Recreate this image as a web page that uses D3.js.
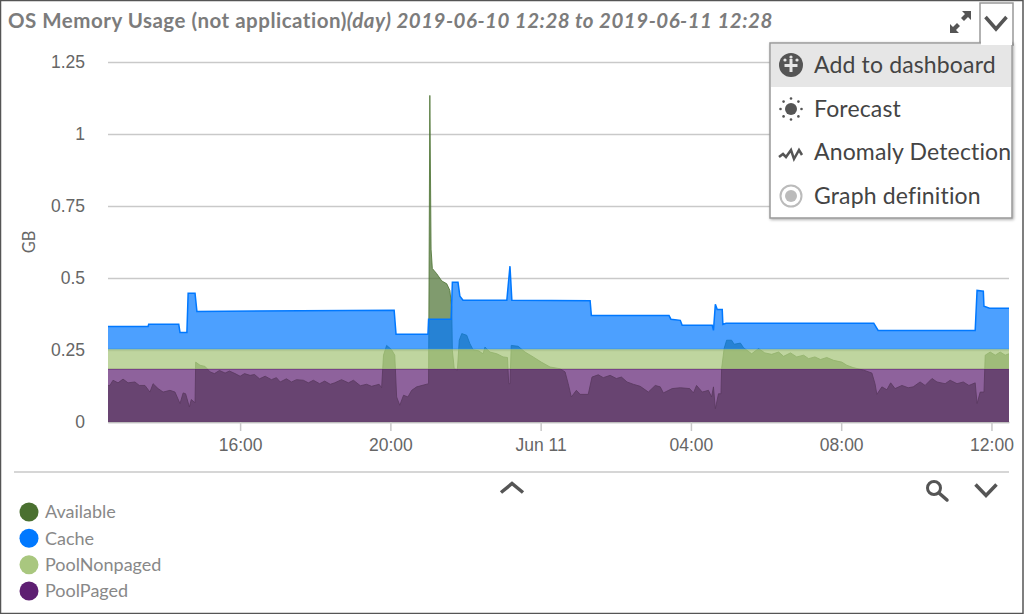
<!DOCTYPE html>
<html>
<head>
	<meta charset="utf-8">
	<title>OS Memory Usage</title>
	<script src="https://d3js.org/d3.v7.min.js"></script>
	<style>
		html, body { margin: 0; padding: 0; background: #fff; }
		svg { display: block; font-family: Lato, "Open Sans", sans-serif; }
	</style>
</head>
<body>
	<div id="chart"></div>

	<script type="text/javascript">

// hours counted from 2019-06-10 00:00
var cacheHours = [12.49,13.55,13.58,14.38,14.40,14.59,14.62,14.80,14.85,20.10,
	20.15,21.01,21.03,21.62,21.65,21.81,21.86,21.94,23.11,23.19,
	23.24,25.32,25.35,27.42,27.48,27.72,27.77,28.57,28.60,28.65,
	28.70,28.84,28.86,28.94,32.88,32.99,35.57,35.63,35.79,35.81,
	35.95,36.48];
var cacheValues = [.079,.079,.086,.086,.058,.058,.194,.194,.131,.135,
	.052,.052,.104,.104,.232,.232,.184,.170,.170,.288,
	.170,.168,.117,.117,.104,.100,.083,.083,.065,.156,
	.138,.138,.086,.090,.090,.065,.065,.204,.201,.149,
	.142,.142];
var nonpagedValues = [.069,.069,.069,.069,.069,.069,.069,.069,.069,.069,
	.069,.069,.069,.069,.069,.069,.069,.069,.069,.069,
	.069,.069,.069,.069,.069,.069,.069,.069,.069,.069,
	.069,.069,.069,.069,.069,.069,.069,.069,.069,.069,
	.069,.069];
var pagedValues = [.184,.184,.184,.184,.184,.184,.184,.184,.184,.184,
	.184,.184,.184,.184,.184,.184,.184,.184,.184,.184,
	.184,.184,.184,.184,.184,.184,.184,.184,.184,.184,
	.184,.184,.184,.184,.184,.184,.184,.184,.184,.184,
	.184,.184];

var availableHours = [12.49,12.54,12.63,12.76,12.89,13.03,13.20,13.32,13.47,13.60,
	13.69,13.83,13.96,14.14,14.27,14.40,14.49,14.56,14.65,14.70,
	14.80,14.83,14.94,15.07,15.20,15.33,15.45,15.60,15.73,15.87,
	16.00,16.13,16.27,16.40,16.53,16.67,16.84,16.98,17.07,17.24,
	17.38,17.51,17.69,17.82,17.95,18.13,18.26,18.40,18.53,18.71,
	18.89,19.02,19.20,19.37,19.51,19.71,19.77,19.82,19.91,20.04,
	20.13,20.17,20.26,20.35,20.48,20.57,20.70,21.02,21.06,21.09,
	21.13,21.24,21.37,21.50,21.59,21.64,21.66,21.70,21.79,21.84,
	21.90,22.04,22.13,22.20,22.35,22.48,22.53,22.66,22.84,23.01,
	23.12,23.15,23.19,23.23,23.41,23.59,23.81,24.03,24.26,24.52,
	24.66,24.74,24.83,24.95,25.05,25.28,25.37,25.54,25.68,25.85,
	26.03,26.16,26.30,26.48,26.65,26.87,27.05,27.19,27.27,27.50,
	27.72,27.98,28.07,28.16,28.30,28.47,28.56,28.61,28.65,28.74,
	28.80,28.83,28.89,28.96,29.09,29.16,29.32,29.40,29.63,29.80,
	29.98,30.16,30.34,30.47,30.65,30.82,31.00,31.14,31.31,31.45,
	31.62,31.80,32.02,32.16,32.33,32.60,32.82,32.91,32.95,33.09,
	33.22,33.33,33.44,33.62,33.80,33.93,34.11,34.24,34.42,34.55,
	34.77,34.91,35.09,35.26,35.40,35.57,35.62,35.71,35.80,35.84,
	35.97,36.11,36.24,36.37,36.48];
var availableValues = [.127,.127,.145,.136,.149,.136,.139,.127,.127,.104,
	.133,.116,.104,.110,.104,.064,.101,.098,.052,.078,
	.067,.208,.197,.193,.174,.168,.179,.170,.177,.168,
	.159,.168,.162,.165,.150,.159,.147,.154,.139,.150,
	.139,.147,.145,.136,.145,.133,.142,.131,.136,.147,
	.136,.145,.126,.131,.124,.131,.119,.232,.266,.251,
	.232,.087,.058,.093,.087,.110,.122,.133,1.134,.600,
	.533,.515,.490,.480,.457,.399,.249,.185,.180,.284,
	.307,.301,.272,.251,.247,.237,.260,.243,.237,.226,
	.224,.133,.133,.266,.263,.243,.226,.208,.191,.185,
	.174,.133,.087,.110,.096,.096,.156,.164,.154,.162,
	.151,.156,.139,.131,.124,.104,.127,.122,.101,.116,
	.119,.116,.101,.127,.104,.110,.087,.122,.046,.098,
	.098,.185,.255,.284,.284,.270,.274,.258,.237,.255,
	.240,.235,.243,.228,.240,.226,.232,.220,.226,.217,
	.224,.214,.208,.197,.189,.180,.170,.133,.096,.122,
	.112,.136,.116,.127,.119,.122,.139,.127,.151,.139,
	.133,.145,.133,.139,.127,.136,.064,.104,.104,.232,
	.243,.232,.243,.232,.237];

var legendNames = ["Available", "Cache", "PoolNonpaged", "PoolPaged"];
var legendColors = ["#4a7030", "#0078ff", "#a9c77f", "#5e1f72"];
var yTicks = [0, .25, .5, .75, 1, 1.25];
var yTickLabels = ["0", "0.25", "0.5", "0.75", "1", "1.25"];
var xTickHours = [16, 20, 24, 28, 32, 36];
var xTickLabels = ["16:00", "20:00", "Jun 11", "04:00", "08:00", "12:00"];
var menuItems = ["Add to dashboard", "Forecast", "Anomaly Detection", "Graph definition"];

function toDate(h) { return new Date(2019, 5, 10, 0, h * 60); }

var svg = d3.select("#chart").append("svg").attr("width", 1024).attr("height", 614);

var x = d3.scaleTime().domain([toDate(12.485), toDate(36.48)]).range([108, 1009]);
var y = d3.scaleLinear().domain([0, 1.25]).range([422, 62]);

// grid and axes
var yAxis = svg.append("g").attr("transform", "translate(108,0)")
	.call(d3.axisLeft(y).tickValues(yTicks).tickSize(-901).tickPadding(23)
		.tickFormat(function(d, i) { return yTickLabels[i]; }));
yAxis.select(".domain").remove();
yAxis.selectAll("line").attr("stroke", "#c9c9c9").attr("stroke-width", 1.5);
yAxis.selectAll("text").attr("fill", "#666").style("font-size", "17.5px");

var xAxis = svg.append("g").attr("transform", "translate(0,422)")
	.call(d3.axisBottom(x).tickValues(xTickHours.map(toDate)).tickSize(9).tickSizeOuter(0).tickPadding(8)
		.tickFormat(function(d, i) { return xTickLabels[i]; }));
xAxis.select(".domain").attr("stroke", "#bdbdbd").attr("stroke-width", 1.5);
xAxis.selectAll("line").attr("stroke", "#c9c9c9").attr("stroke-width", 1.5);
xAxis.selectAll("text").attr("fill", "#666").style("font-size", "17.5px");

// Available sits behind the stacked series
var availableRows = availableHours.map(function(h, i) { return { date: toDate(h), value: availableValues[i] }; });
svg.append("path").datum(availableRows)
	.attr("fill", "#4a7030").attr("fill-opacity", .7)
	.attr("d", d3.area().x(function(d) { return x(d.date); }).y0(y(0)).y1(function(d) { return y(d.value); }));
svg.append("path").datum(availableRows)
	.attr("fill", "none").attr("stroke", "#4a7030").attr("stroke-width", 1).attr("stroke-opacity", .8)
	.attr("d", d3.line().x(function(d) { return x(d.date); }).y(function(d) { return y(d.value); }));

// PoolPaged, PoolNonpaged and Cache are stacked
var rows = cacheHours.map(function(h, i) {
	return { date: toDate(h), PoolPaged: pagedValues[i], PoolNonpaged: nonpagedValues[i], Cache: cacheValues[i] };
});
var layers = d3.stack().keys(["PoolPaged", "PoolNonpaged", "Cache"])(rows);
var layerStyle = {
	PoolPaged: { color: "#5e1f72", opacity: .7 },
	PoolNonpaged: { color: "#a9c77f", opacity: .75 },
	Cache: { color: "#0078ff", opacity: .7 }
};

layers.forEach(function(layer) {
	var style = layerStyle[layer.key];
	svg.append("path").datum(layer)
		.attr("fill", style.color).attr("fill-opacity", style.opacity)
		.attr("d", d3.area()
			.x(function(d) { return x(d.data.date); })
			.y0(function(d) { return y(d[0]); })
			.y1(function(d) { return y(d[1]); }));
	svg.append("path").datum(layer)
		.attr("fill", "none").attr("stroke", style.color).attr("stroke-width", 1.5)
		.attr("stroke-opacity", layer.key == "Cache" ? 1 : .6)
		.attr("d", d3.line()
			.x(function(d) { return x(d.data.date); })
			.y(function(d) { return y(d[1]); }));
});

// title
var title = svg.append("text").attr("x", 8).attr("y", 28).attr("fill", "#7c7c7c")
	.style("font-size", "20.5px").style("letter-spacing", ".5px");
title.append("tspan").style("font-weight", 700).text("OS Memory Usage (not application)");
title.append("tspan").style("font-weight", 700).style("font-style", "italic").text("(day) 2019-06-10 12:28 to 2019-06-11 12:28");

svg.append("text").attr("transform", "translate(35,242) rotate(-90)").attr("text-anchor", "middle")
	.attr("fill", "#666").style("font-size", "16.5px").text("GB");

// lower section
svg.append("line").attr("x1", 14).attr("x2", 1009).attr("y1", 472).attr("y2", 472)
	.attr("stroke", "#c9c9c9").attr("stroke-width", 1.5);

function chevron(cx, cy, w, h, dir, sw) {
	svg.append("path")
		.attr("d", d3.line()([[cx - w, cy - dir * h], [cx, cy + dir * h], [cx + w, cy - dir * h]]))
		.attr("fill", "none").attr("stroke", "#555").attr("stroke-width", sw);
}
chevron(512, 488, 11, 4.5, -1, 3.5);
chevron(986, 490, 10.5, 5.5, 1, 3.5);

svg.append("circle").attr("cx", 934).attr("cy", 488).attr("r", 6.5)
	.attr("fill", "none").attr("stroke", "#555").attr("stroke-width", 3);
svg.append("line").attr("x1", 939).attr("y1", 493).attr("x2", 947).attr("y2", 500)
	.attr("stroke", "#555").attr("stroke-width", 3.5).attr("stroke-linecap", "round");

// legend
var legendY = d3.scalePoint().domain(legendNames).range([512, 591]);
var legend = svg.selectAll(".legend").data(legendNames).enter().append("g")
	.attr("class", "legend")
	.attr("transform", function(d) { return "translate(0," + legendY(d) + ")"; });
legend.append("circle").attr("cx", 29).attr("r", 9.5)
	.attr("fill", function(d, i) { return legendColors[i]; });
legend.append("text").attr("x", 45).attr("dy", ".35em").attr("fill", "#888")
	.style("font-size", "18px").text(function(d) { return d; });

// expand icon
svg.append("path").attr("d", "M950 33v-9l3 3 4-4 3 3-4 4 3 3zM971 11v9l-3-3-4 4-3-3 4-4-3-3z").attr("fill", "#555");

// dropdown button and menu
svg.append("rect").attr("x", 980).attr("y", 3).attr("width", 33).attr("height", 42)
	.attr("fill", "#fff").attr("stroke", "#999").attr("stroke-width", 1.5);
chevron(996, 23, 10.5, 6, 1, 3.5);

var shadow = svg.append("defs").append("filter").attr("id", "menuShadow")
	.attr("x", "-5%").attr("y", "-5%").attr("width", "112%").attr("height", "112%");
shadow.append("feDropShadow").attr("dx", 1).attr("dy", 1).attr("stdDeviation", 1.5).attr("flood-color", "#000").attr("flood-opacity", .35);

svg.append("rect").attr("x", 770).attr("y", 43).attr("width", 242).attr("height", 175)
	.attr("fill", "#fff").attr("stroke", "#999").attr("stroke-width", 1.5).attr("filter", "url(#menuShadow)");
svg.append("rect").attr("x", 771).attr("y", 44).attr("width", 240).attr("height", 43).attr("fill", "#e6e6e6");
svg.append("rect").attr("x", 981).attr("y", 40).attr("width", 31).attr("height", 5).attr("fill", "#fff");

var menuY = d3.scalePoint().domain(menuItems).range([65, 196]);
svg.selectAll(".item").data(menuItems).enter().append("text")
	.attr("class", "item").attr("x", 814).attr("y", function(d) { return menuY(d); }).attr("dy", ".35em")
	.attr("fill", "#444").style("font-size", "23px").style("letter-spacing", ".15px").text(function(d) { return d; });

// menu icons
svg.append("circle").attr("cx", 791).attr("cy", 65).attr("r", 12).attr("fill", "#555");
svg.append("path").attr("d", "M789.5 64h-5v3h5v5h3v-5h5v-3h-5v-5h-3z").attr("fill", "#e6e6e6");
[[785, 60], [791, 57], [797, 60]].forEach(function(p) {
	svg.append("circle").attr("cx", p[0]).attr("cy", p[1]).attr("r", 1.6).attr("fill", "#e6e6e6");
});

svg.append("circle").attr("cx", 791).attr("cy", 109).attr("r", 6).attr("fill", "#555");
d3.range(8).forEach(function(i) {
	svg.append("circle").attr("r", 1.3).attr("fill", "#555")
		.attr("cx", 791 + 10.5 * Math.cos(i * Math.PI / 4))
		.attr("cy", 109 + 10.5 * Math.sin(i * Math.PI / 4));
});

svg.append("path").attr("d", "M779 157l4-3 3 3 5-7 3 9 5-9 3 5")
	.attr("fill", "none").attr("stroke", "#555").attr("stroke-width", 2.5);

svg.append("circle").attr("cx", 791).attr("cy", 196).attr("r", 10.5)
	.attr("fill", "none").attr("stroke", "#bbb").attr("stroke-width", 2);
svg.append("circle").attr("cx", 791).attr("cy", 196).attr("r", 6).attr("fill", "#bbb");

// frame
svg.append("rect").attr("x", .5).attr("y", .5).attr("width", 1022.5).attr("height", 613)
	.attr("fill", "none").attr("stroke", "#555").attr("stroke-width", 1.5);

</script>
</body>
</html>
